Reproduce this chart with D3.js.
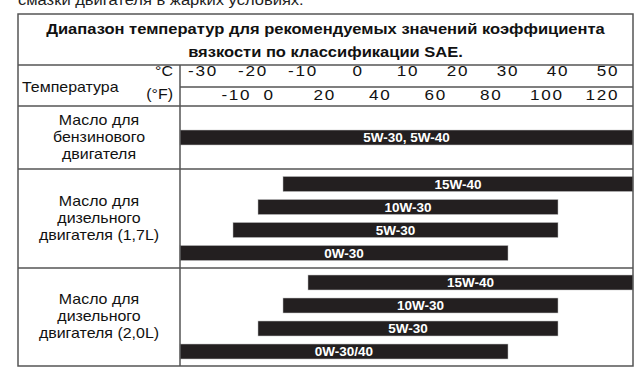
<!DOCTYPE html>
<html>
<head>
<meta charset="utf-8">
<script src="https://cdn.jsdelivr.net/npm/d3@7"></script>
<style>
  body { margin: 0; background: #fff; }
  text { font-family: "Liberation Sans", Arial, sans-serif; }
</style>
</head>
<body>
<script>
    let titleLines = ["Диапазон температур для рекомендуемых значений коэффициента", "вязкости по классификации SAE."];
    let celsiusTicks = [-30, -20, -10, 0, 10, 20, 30, 40, 50];
    let fahrenheitTicks = [-10, 0, 20, 40, 60, 80, 100, 120];

    let groups = ["petrol", "diesel17", "diesel20"];
    let groupLabels = [
      ["Масло для", "бензинового", "двигателя"],
      ["Масло для", "дизельного", "двигателя (1,7L)"],
      ["Масло для", "дизельного", "двигателя (2,0L)"]
    ];

    // ranges in °C, -40 / 60 mean "off the chart" (clamped)
    let petrolOils = ["5W-30, 5W-40"];
    let petrolMin = [-40];
    let petrolMax = [60];

    let diesel17Oils = ["15W-40", "10W-30", "5W-30", "0W-30"];
    let diesel17Min = [-15, -20, -25, -40];
    let diesel17Max = [60, 40, 40, 30];

    let diesel20Oils = ["15W-40", "10W-30", "5W-30", "0W-30/40"];
    let diesel20Min = [-10, -15, -20, -40];
    let diesel20Max = [60, 40, 40, 30];

    let bars = [
      petrolOils.map((d, i) => ({group: "petrol", oil: d, min: petrolMin[i], max: petrolMax[i]})),
      diesel17Oils.map((d, i) => ({group: "diesel17", oil: d, min: diesel17Min[i], max: diesel17Max[i]})),
      diesel20Oils.map((d, i) => ({group: "diesel20", oil: d, min: diesel20Min[i], max: diesel20Max[i]}))
    ];

    let width = 640, height = 374;
    let table = {"left": 18, "right": 633, "top": 14, "split": 180};
    let rows = {"title": 65, "celsius": 87, "header": 106};
    let groupBottoms = [169, 268, 366];
    let lineColor = "#555";
    let barColor = "#231f20";
    let stretch = 1.14;   // the scanned table is a bit wider than the font

    const svg = d3.select("body")
      .append("svg")
      .attr("width", width)
      .attr("height", height);

    function place(x, y) {
      return "translate(" + x + "," + y + ") scale(" + stretch + ",1)";
    }

    // cut off line of the text above the table
    svg.append("text")
      .text("смазки двигателя в жарких условиях.")
      .attr("transform", place(table.left, 5))
      .style("font-size", 14.5)
      .attr("fill", "#222");

    let xscale = d3.scaleLinear()
      .domain([-35.6, 55])
      .range([table.split, table.right])
      .clamp(true);

    // title
    svg.selectAll(".title")
      .data(titleLines)
      .enter()
      .append("text")
      .attr("class", "title")
      .text((d) => d)
      .attr("transform", (d, i) => place((table.left + table.right) / 2, 34 + i * 23))
      .attr("text-anchor", "middle")
      .style("font-size", 14.5)
      .style("font-weight", "bold")
      .attr("fill", "#111");

    // header
    svg.append("text")
      .text("Температура")
      .attr("transform", place(table.left + 4, 92))
      .style("font-size", 14)
      .attr("fill", "#111");

    svg.append("text")
      .text("°C")
      .attr("transform", place(table.split - 7, 76))
      .attr("text-anchor", "end")
      .style("font-size", 14)
      .attr("fill", "#111");

    svg.append("text")
      .text("(°F)")
      .attr("transform", place(table.split - 7, 99))
      .attr("text-anchor", "end")
      .style("font-size", 14)
      .attr("fill", "#111");

    svg.selectAll(".c-tick")
      .data(celsiusTicks)
      .enter()
      .append("text")
      .attr("class", "c-tick")
      .text((d) => d)
      .attr("transform", (d) => place(xscale(d) - (d < 0 ? 5 : 0), 76))
      .attr("text-anchor", "middle")
      .style("font-size", 15)
      .style("letter-spacing", "1.5px")
      .attr("fill", "#111");

    svg.selectAll(".f-tick")
      .data(fahrenheitTicks)
      .enter()
      .append("text")
      .attr("class", "f-tick")
      .text((d) => d)
      .attr("transform", (d) => place(xscale((d - 32) * 5 / 9) - (d < 0 ? 5 : 0), 100))
      .attr("text-anchor", "middle")
      .style("font-size", 15)
      .style("letter-spacing", "1.5px")
      .attr("fill", "#111");

    // groups
    let groupTops = [rows.header].concat(groupBottoms.slice(0, -1));

    groups.forEach((g, gi) => {
      let top = groupTops[gi], bottom = groupBottoms[gi];
      let center = (top + bottom) / 2;
      let data = bars[gi];
      let step = 23;

      let yscale = d3.scaleBand()
        .domain(data.map((d) => d.oil))
        .range([center - data.length * step / 2, center + data.length * step / 2])
        .paddingInner(0.35)
        .paddingOuter(0.175);

      svg.selectAll(".label-" + g)
        .data(groupLabels[gi])
        .enter()
        .append("text")
        .attr("class", "label-" + g)
        .text((d) => d)
        .attr("transform", (d, i) => place((table.left + table.split) / 2, center + (i - 1) * 17 + 4))
        .attr("text-anchor", "middle")
        .style("font-size", 14)
        .attr("fill", "#111");

      let bar = svg.selectAll(".bar-" + g)
        .data(data)
        .enter()
        .append("g")
        .attr("class", "bar-" + g);

      bar.append("rect")
        .attr("x", (d) => xscale(d.min))
        .attr("y", (d) => yscale(d.oil))
        .attr("width", (d) => xscale(d.max) - xscale(d.min))
        .attr("height", yscale.bandwidth())
        .style("fill", barColor)
        .style("stroke", "#bbb")
        .style("stroke-width", 0.5);

      bar.append("text")
        .text((d) => d.oil)
        .attr("x", (d) => (xscale(d.min) + xscale(d.max)) / 2)
        .attr("y", (d) => yscale(d.oil) + yscale.bandwidth() / 2 + 4.5)
        .attr("text-anchor", "middle")
        .style("font-size", 13.5)
        .style("font-weight", "bold")
        .attr("fill", "#fff");
    });

    // table lines
    let lines = svg.append("g")
      .attr("stroke", lineColor)
      .attr("stroke-width", 1.5)
      .attr("fill", "none");

    lines.append("rect")
      .attr("x", table.left)
      .attr("y", table.top)
      .attr("width", table.right - table.left)
      .attr("height", groupBottoms[groupBottoms.length - 1] - table.top);

    [rows.title, rows.header].concat(groupBottoms.slice(0, -1)).forEach((y) => {
      lines.append("line")
        .attr("x1", table.left).attr("x2", table.right)
        .attr("y1", y).attr("y2", y);
    });

    lines.append("line")
      .attr("x1", table.split).attr("x2", table.right)
      .attr("y1", rows.celsius).attr("y2", rows.celsius);

    lines.append("line")
      .attr("x1", table.split).attr("x2", table.split)
      .attr("y1", rows.title).attr("y2", groupBottoms[groupBottoms.length - 1]);
</script>
</body>
</html>
